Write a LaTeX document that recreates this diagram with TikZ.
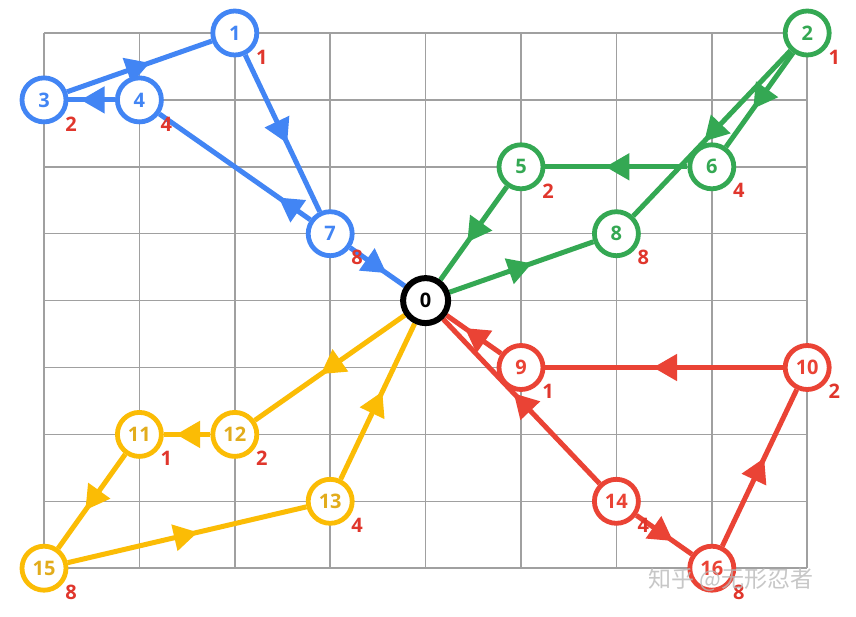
\documentclass[tikz,border=0pt]{standalone}
\usepackage{fontspec}
\setmainfont{Open Sans}
\newfontfamily\cjkfont{Noto Sans CJK SC}
\usetikzlibrary{arrows.meta,decorations.markings}
\definecolor{cblue}{HTML}{4285F4}
\definecolor{cgreen}{HTML}{34A853}
\definecolor{cyellow}{HTML}{FBBC05}
\definecolor{cyeltext}{HTML}{E2AC1C}
\definecolor{cred}{HTML}{EA4335}
\definecolor{gridgray}{HTML}{A0A0A0}
\definecolor{lblred}{HTML}{E0362C}
\pgfdeclarelayer{bg}
\pgfsetlayers{bg,main}
\tikzset{
  gridline/.style={draw=gridgray, line width=1.5pt},
  vtx/.style={circle, draw=#1, line width=4.8pt, fill=white, text=#1,
    minimum size=44pt, inner sep=0pt,
    font=\fontsize{20pt}{20pt}\selectfont\bfseries},
  lbl/.style={text=lblred, inner sep=0pt,
    font=\fontsize{20pt}{20pt}\selectfont\bfseries},
  edgeat/.style 2 args={draw=#1, line width=5pt, postaction={decorate},
    decoration={markings, mark=at position #2 with {\pgftransformxshift{11pt}\arrow[#1]{Triangle[length=24pt,width=26pt]}}}},
  edge/.style={edgeat={#1}{0.5}},
  wm/.style={text=gray!55, opacity=0.8, inner sep=0pt,
    font=\cjkfont\fontsize{23pt}{23pt}\selectfont}
}
\begin{document}
\begin{tikzpicture}[x=1pt,y=-1pt]
\useasboundingbox (0,0) rectangle (856,616);
\begin{scope}[x=95.4pt,y=-66.9pt,shift={(44pt,-33pt)}]
  % nodes
  \node[vtx=black, line width=6pt, minimum size=45pt, text=black] (n0) at (4,4) {0};
  \node[vtx=cblue] (n1) at (2,0) {1};
  \node[vtx=cgreen] (n2) at (8,0) {2};
  \node[vtx=cblue] (n3) at (0,1) {3};
  \node[vtx=cblue] (n4) at (1,1) {4};
  \node[vtx=cgreen] (n5) at (5,2) {5};
  \node[vtx=cgreen] (n6) at (7,2) {6};
  \node[vtx=cblue] (n7) at (3,3) {7};
  \node[vtx=cgreen] (n8) at (6,3) {8};
  \node[vtx=cred] (n9) at (5,5) {9};
  \node[vtx=cred] (n10) at (8,5) {10};
  \node[vtx=cyellow, text=cyeltext] (n11) at (1,6) {11};
  \node[vtx=cyellow, text=cyeltext] (n12) at (2,6) {12};
  \node[vtx=cyellow, text=cyeltext] (n13) at (3,7) {13};
  \node[vtx=cred] (n14) at (6,7) {14};
  \node[vtx=cyellow, text=cyeltext] (n15) at (0,8) {15};
  \node[vtx=cred] (n16) at (7,8) {16};
  % weight labels
  \foreach \n/\w in {1/1,2/1,3/2,4/4,5/2,6/4,7/8,8/8,9/1,10/2,11/1,12/2,13/4,14/4,15/8,16/8}
    \node[lbl] (l\n) at ([xshift=27pt,yshift=-24pt]n\n.center) {\w};
  \begin{pgfonlayer}{bg}
    \fill[white] (-44pt,33pt) rectangle ++(856pt,-616pt);
    \foreach \i in {0,...,8} {
      \draw[gridline] (\i,0) -- (\i,8);
      \draw[gridline] (0,\i) -- (8,\i);
    }
    % blue
    \draw[edge=cblue] (n3) -- (n1);
    \draw[edge=cblue] (n4) -- (n3);
    \draw[edge=cblue] (n1) -- (n7);
    \draw[edgeat={cblue}{0.15}] (n7) -- (n4);
    \draw[edge=cblue] (n7) -- (n0);
    % green
    \draw[edge=cgreen] (n2) -- (n6);
    \draw[edge=cgreen] (n2) -- (n8);
    \draw[edge=cgreen] (n6) -- (n5);
    \draw[edge=cgreen] (n5) -- (n0);
    \draw[edge=cgreen] (n0) -- (n8);
    % red
    \draw[edge=cred] (n9) -- (n0);
    \draw[edge=cred] (n14) -- (n0);
    \draw[edge=cred] (n10) -- (n9);
    \draw[edge=cred] (n14) -- (n16);
    \draw[edge=cred] (n16) -- (n10);
    % yellow
    \draw[edge=cyellow] (n0) -- (n12);
    \draw[edge=cyellow] (n12) -- (n11);
    \draw[edge=cyellow] (n11) -- (n15);
    \draw[edge=cyellow] (n15) -- (n13);
    \draw[edge=cyellow] (n13) -- (n0);
  \end{pgfonlayer}
\end{scope}
\node[wm, anchor=west] (wm) at (648,580) {知乎 @无形忍者};
\end{tikzpicture}
\end{document}
